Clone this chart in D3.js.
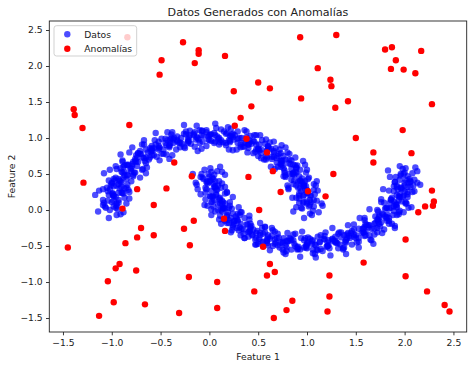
<!DOCTYPE html>
<html><head><meta charset="utf-8">
<script src="https://cdn.jsdelivr.net/npm/d3@7"></script>
<style>
html,body{margin:0;padding:0;background:#fff;}
svg{display:block;font-family:"DejaVu Sans",sans-serif;}
</style></head>
<body><svg id="chart" width="474" height="368"></svg>
<script>
const titulo = "Datos Generados con Anomalías";
const etiquetaX = "Feature 1";
const etiquetaY = "Feature 2";
const serieNombres = ["Datos", "Anomalías"];
const ticksX = [-1.5,-1.0,-0.5,0.0,0.5,1.0,1.5,2.0,2.5];
const ticksY = [-1.5,-1.0,-0.5,0.0,0.5,1.0,1.5,2.0,2.5];

// puntos normales: luna superior
const lunaSuperior = [
[1.02,0.05],[0.92,0.1],[1.12,-0.03],[0.97,-0.11],[1.07,0.14],[0.86,-0.02],[1.05,-0.07],[0.94,0.03],[1.15,0.09],
[0.96,0.19],[1.1,0.13],[0.89,0.04],[1.03,-0.05],[1.08,0.22],[0.98,0.28],[1.16,0.06],[0.85,0.17],[1.0,0.09],
[1.04,0.11],[0.89,0.17],[0.99,0.33],[1.11,0.27],[0.93,0.41],[0.81,0.31],[1.07,0.05],[0.97,0.21],[1.09,0.34],
[0.97,0.36],[0.87,0.41],[1.07,0.28],[0.92,0.2],[1.02,0.45],[0.81,0.29],[1.0,0.24],[0.89,0.34],[1.1,0.4],
[0.87,0.49],[1.01,0.43],[0.8,0.34],[0.94,0.26],[0.99,0.52],[0.89,0.58],[1.07,0.36],[0.76,0.47],[0.91,0.39],
[0.93,0.4],[0.78,0.46],[0.88,0.62],[1.0,0.56],[0.82,0.7],[0.7,0.6],[0.96,0.34],[0.86,0.5],[0.98,0.63],
[0.83,0.64],[0.73,0.69],[0.93,0.56],[0.78,0.48],[0.88,0.73],[0.67,0.57],[0.86,0.52],[0.75,0.62],[0.96,0.68],
[0.7,0.75],[0.84,0.69],[0.63,0.6],[0.77,0.52],[0.82,0.78],[0.72,0.84],[0.9,0.62],[0.59,0.73],[0.74,0.65],
[0.73,0.64],[0.58,0.7],[0.68,0.86],[0.8,0.8],[0.62,0.94],[0.5,0.84],[0.76,0.58],[0.66,0.74],[0.78,0.87],
[0.61,0.86],[0.51,0.91],[0.71,0.78],[0.56,0.7],[0.66,0.95],[0.45,0.79],[0.64,0.74],[0.53,0.84],[0.74,0.9],
[0.46,0.95],[0.6,0.89],[0.39,0.8],[0.53,0.72],[0.58,0.98],[0.48,1.04],[0.66,0.82],[0.35,0.93],[0.5,0.85],
[0.47,0.81],[0.32,0.87],[0.42,1.03],[0.54,0.97],[0.36,1.11],[0.24,1.01],[0.5,0.75],[0.4,0.91],[0.52,1.04],
[0.33,1.0],[0.23,1.05],[0.43,0.92],[0.28,0.84],[0.38,1.09],[0.17,0.93],[0.36,0.88],[0.25,0.98],[0.46,1.04],
[0.17,1.06],[0.31,1.0],[0.1,0.91],[0.24,0.83],[0.29,1.09],[0.19,1.15],[0.37,0.93],[0.06,1.04],[0.21,0.96],
[0.17,0.9],[0.02,0.96],[0.12,1.12],[0.24,1.06],[0.06,1.2],[-0.07,1.1],[0.2,0.84],[0.1,1.0],[0.22,1.13],
[0.02,1.05],[-0.08,1.1],[0.12,0.97],[-0.03,0.89],[0.07,1.14],[-0.14,0.98],[0.05,0.93],[-0.06,1.03],[0.15,1.09],
[-0.15,1.08],[-0.01,1.02],[-0.22,0.93],[-0.08,0.85],[-0.03,1.11],[-0.13,1.17],[0.06,0.95],[-0.26,1.06],[-0.11,0.98],
[-0.15,0.88],[-0.3,0.94],[-0.2,1.1],[-0.08,1.04],[-0.26,1.18],[-0.38,1.08],[-0.12,0.82],[-0.22,0.98],[-0.1,1.11],
[-0.29,1.0],[-0.39,1.05],[-0.19,0.92],[-0.34,0.84],[-0.24,1.09],[-0.45,0.93],[-0.26,0.88],[-0.37,0.98],[-0.16,1.04],
[-0.45,0.99],[-0.31,0.93],[-0.52,0.84],[-0.38,0.76],[-0.33,1.02],[-0.43,1.08],[-0.25,0.86],[-0.56,0.97],[-0.41,0.89],
[-0.44,0.77],[-0.59,0.83],[-0.49,0.99],[-0.37,0.93],[-0.55,1.07],[-0.67,0.97],[-0.41,0.71],[-0.51,0.87],[-0.39,1.0],
[-0.57,0.86],[-0.67,0.91],[-0.47,0.78],[-0.62,0.7],[-0.52,0.95],[-0.73,0.79],[-0.54,0.74],[-0.65,0.84],[-0.44,0.9],
[-0.71,0.82],[-0.57,0.76],[-0.78,0.67],[-0.64,0.59],[-0.59,0.85],[-0.69,0.91],[-0.51,0.69],[-0.82,0.8],[-0.67,0.72],
[-0.68,0.57],[-0.83,0.63],[-0.73,0.79],[-0.61,0.73],[-0.79,0.87],[-0.91,0.77],[-0.65,0.51],[-0.75,0.67],[-0.63,0.8],
[-0.79,0.64],[-0.89,0.69],[-0.69,0.56],[-0.84,0.48],[-0.74,0.73],[-0.95,0.57],[-0.76,0.52],[-0.87,0.62],[-0.66,0.68],
[-0.91,0.58],[-0.77,0.52],[-0.98,0.43],[-0.84,0.35],[-0.79,0.61],[-0.89,0.67],[-0.71,0.45],[-1.02,0.56],[-0.87,0.48],
[-0.85,0.31],[-1.0,0.37],[-0.9,0.53],[-0.78,0.47],[-0.96,0.61],[-1.08,0.51],[-0.82,0.25],[-0.92,0.41],[-0.8,0.54],
[-0.93,0.36],[-1.03,0.41],[-0.83,0.28],[-0.98,0.2],[-0.88,0.45],[-1.09,0.29],[-0.9,0.24],[-1.01,0.34],[-0.8,0.4],
[-1.02,0.29],[-0.88,0.23],[-1.09,0.14],[-0.95,0.06],[-0.9,0.32],[-1.0,0.38],[-0.82,0.16],[-1.13,0.27],[-0.98,0.19],
[-0.94,0.01],[-1.09,0.07],[-0.99,0.23],[-0.87,0.17],[-1.05,0.31],[-1.17,0.21],[-0.91,-0.06],[-1.0,0.11],[-0.89,0.24],
[-0.98,0.05],[-1.08,0.1],[-0.88,-0.03],[-1.03,-0.11],[-0.93,0.14],[-1.14,-0.02],[-0.95,-0.07],[-1.06,0.03],[-0.85,0.09],
[1.03,0.07],[0.95,0.02],[1.0,0.12],[1.06,-0.01],[0.96,0.1],
[0.97,0.11],[1.04,0.2],[0.92,0.16],[1.01,0.24],[1.03,0.14],
[1.0,0.28],[0.92,0.23],[0.97,0.33],[1.03,0.2],[0.93,0.31],
[0.91,0.31],[0.98,0.4],[0.86,0.36],[0.95,0.44],[0.97,0.34],
[0.92,0.47],[0.84,0.42],[0.89,0.52],[0.95,0.39],[0.85,0.5],
[0.82,0.5],[0.89,0.59],[0.77,0.55],[0.86,0.63],[0.88,0.53],
[0.81,0.65],[0.73,0.6],[0.78,0.7],[0.84,0.57],[0.74,0.68],
[0.69,0.66],[0.76,0.75],[0.64,0.71],[0.73,0.79],[0.75,0.69],
[0.66,0.8],[0.58,0.75],[0.63,0.85],[0.69,0.72],[0.59,0.83],
[0.53,0.79],[0.6,0.88],[0.48,0.84],[0.57,0.92],[0.59,0.82],
[0.48,0.91],[0.4,0.86],[0.45,0.96],[0.51,0.83],[0.41,0.94],
[0.34,0.88],[0.41,0.97],[0.29,0.93],[0.38,1.01],[0.4,0.91],
[0.29,0.99],[0.21,0.94],[0.26,1.04],[0.32,0.91],[0.22,1.02],
[0.14,0.94],[0.21,1.03],[0.09,0.99],[0.18,1.07],[0.2,0.97],
[0.08,1.02],[0.0,0.97],[0.05,1.07],[0.11,0.94],[0.01,1.05],
[-0.07,0.95],[0.0,1.04],[-0.12,1.0],[-0.03,1.08],[-0.01,0.98],
[-0.13,1.01],[-0.21,0.96],[-0.16,1.06],[-0.1,0.93],[-0.2,1.04],
[-0.28,0.92],[-0.21,1.01],[-0.33,0.97],[-0.24,1.05],[-0.22,0.95],
[-0.33,0.95],[-0.41,0.9],[-0.36,1.0],[-0.3,0.87],[-0.4,0.98],
[-0.47,0.84],[-0.4,0.93],[-0.52,0.89],[-0.43,0.97],[-0.41,0.87],
[-0.52,0.86],[-0.6,0.81],[-0.55,0.91],[-0.49,0.78],[-0.59,0.89],
[-0.65,0.73],[-0.58,0.82],[-0.7,0.78],[-0.61,0.86],[-0.59,0.76],
[-0.68,0.73],[-0.76,0.68],[-0.71,0.78],[-0.65,0.65],[-0.75,0.76],
[-0.8,0.58],[-0.73,0.67],[-0.85,0.63],[-0.76,0.71],[-0.74,0.61],
[-0.81,0.57],[-0.89,0.52],[-0.84,0.62],[-0.78,0.49],[-0.88,0.6],
[-0.91,0.4],[-0.84,0.49],[-0.96,0.45],[-0.87,0.53],[-0.85,0.43],
[-0.9,0.38],[-0.98,0.33],[-0.93,0.43],[-0.87,0.3],[-0.97,0.41],
[-0.99,0.21],[-0.92,0.3],[-1.04,0.26],[-0.95,0.34],[-0.93,0.24],
[-0.96,0.18],[-1.04,0.13],[-0.99,0.23],[-0.93,0.1],[-1.03,0.21],
[-1.02,0.0],[-0.95,0.09],[-1.07,0.05],[-0.98,0.13],[-0.96,0.03]
];

// puntos normales: luna inferior
const lunaInferior = [
[0.06,0.4],[-0.09,0.46],[0.01,0.58],[0.13,0.53],[-0.05,0.56],[-0.17,0.5],[0.09,0.34],[-0.01,0.5],[0.11,0.6],
[0.03,0.45],[-0.08,0.5],[0.13,0.37],[-0.03,0.29],[0.08,0.54],[-0.14,0.38],[0.06,0.33],[-0.06,0.43],[0.16,0.49],
[-0.02,0.37],[0.12,0.31],[-0.09,0.22],[0.05,0.14],[0.1,0.4],[0.0,0.46],[0.18,0.24],[-0.13,0.35],[0.02,0.27],
[0.11,0.09],[-0.04,0.15],[0.06,0.31],[0.18,0.25],[0.0,0.39],[-0.12,0.29],[0.14,0.03],[0.04,0.19],[0.16,0.32],
[0.11,0.14],[0.01,0.19],[0.21,0.06],[0.06,-0.02],[0.16,0.23],[-0.05,0.07],[0.14,0.02],[0.03,0.12],[0.24,0.18],
[0.09,0.08],[0.23,0.02],[0.02,-0.07],[0.16,-0.15],[0.21,0.11],[0.11,0.17],[0.29,-0.05],[-0.02,0.06],[0.13,-0.02],
[0.25,-0.19],[0.1,-0.13],[0.2,0.03],[0.32,-0.03],[0.14,0.11],[0.02,0.01],[0.28,-0.25],[0.18,-0.09],[0.3,0.04],
[0.28,-0.12],[0.18,-0.07],[0.38,-0.2],[0.23,-0.28],[0.33,-0.03],[0.12,-0.19],[0.31,-0.24],[0.2,-0.14],[0.41,-0.08],
[0.29,-0.16],[0.43,-0.22],[0.22,-0.31],[0.36,-0.39],[0.41,-0.13],[0.31,-0.07],[0.49,-0.29],[0.18,-0.18],[0.33,-0.26],
[0.47,-0.41],[0.32,-0.35],[0.42,-0.19],[0.54,-0.25],[0.36,-0.11],[0.24,-0.21],[0.5,-0.47],[0.4,-0.31],[0.52,-0.18],
[0.52,-0.32],[0.42,-0.27],[0.62,-0.4],[0.47,-0.48],[0.57,-0.23],[0.36,-0.39],[0.55,-0.44],[0.44,-0.34],[0.65,-0.28],
[0.55,-0.33],[0.69,-0.39],[0.48,-0.48],[0.62,-0.56],[0.67,-0.3],[0.57,-0.24],[0.75,-0.46],[0.44,-0.35],[0.59,-0.43],
[0.75,-0.55],[0.6,-0.49],[0.7,-0.33],[0.82,-0.39],[0.64,-0.25],[0.52,-0.35],[0.78,-0.61],[0.68,-0.45],[0.8,-0.32],
[0.81,-0.43],[0.71,-0.38],[0.91,-0.51],[0.76,-0.59],[0.86,-0.34],[0.65,-0.5],[0.84,-0.55],[0.73,-0.45],[0.94,-0.39],
[0.86,-0.42],[1.0,-0.48],[0.79,-0.57],[0.93,-0.65],[0.98,-0.39],[0.88,-0.33],[1.06,-0.55],[0.75,-0.44],[0.9,-0.52],
[1.06,-0.6],[0.91,-0.54],[1.01,-0.38],[1.13,-0.44],[0.95,-0.3],[0.83,-0.4],[1.09,-0.66],[0.99,-0.5],[1.11,-0.37],
[1.13,-0.45],[1.03,-0.4],[1.23,-0.53],[1.08,-0.61],[1.18,-0.36],[0.97,-0.52],[1.16,-0.57],[1.05,-0.47],[1.26,-0.41],
[1.17,-0.4],[1.31,-0.46],[1.1,-0.55],[1.24,-0.63],[1.29,-0.37],[1.19,-0.31],[1.37,-0.53],[1.06,-0.42],[1.21,-0.5],
[1.37,-0.55],[1.22,-0.49],[1.32,-0.33],[1.44,-0.39],[1.26,-0.25],[1.14,-0.35],[1.4,-0.61],[1.3,-0.45],[1.42,-0.32],
[1.43,-0.36],[1.33,-0.31],[1.53,-0.44],[1.38,-0.52],[1.48,-0.27],[1.27,-0.43],[1.46,-0.48],[1.35,-0.38],[1.56,-0.32],
[1.46,-0.29],[1.6,-0.35],[1.39,-0.44],[1.53,-0.52],[1.58,-0.26],[1.48,-0.2],[1.66,-0.42],[1.35,-0.31],[1.5,-0.39],
[1.65,-0.41],[1.5,-0.35],[1.6,-0.19],[1.72,-0.25],[1.54,-0.11],[1.42,-0.21],[1.68,-0.47],[1.58,-0.31],[1.7,-0.18],
[1.69,-0.19],[1.59,-0.14],[1.79,-0.27],[1.64,-0.35],[1.74,-0.1],[1.53,-0.26],[1.72,-0.31],[1.61,-0.21],[1.82,-0.15],
[1.7,-0.09],[1.84,-0.15],[1.63,-0.24],[1.77,-0.32],[1.82,-0.06],[1.72,0.0],[1.9,-0.22],[1.59,-0.11],[1.74,-0.19],
[1.87,-0.19],[1.72,-0.13],[1.82,0.03],[1.94,-0.03],[1.76,0.11],[1.64,0.01],[1.9,-0.25],[1.8,-0.09],[1.92,0.04],
[1.89,0.05],[1.79,0.1],[1.99,-0.03],[1.84,-0.11],[1.94,0.14],[1.73,-0.02],[1.92,-0.07],[1.81,0.03],[2.02,0.09],
[1.87,0.17],[2.01,0.11],[1.8,0.02],[1.94,-0.06],[1.99,0.2],[1.89,0.26],[2.07,0.04],[1.76,0.15],[1.91,0.07],
[2.01,0.09],[1.86,0.15],[1.96,0.31],[2.08,0.25],[1.9,0.39],[1.78,0.29],[2.04,0.03],[1.94,0.19],[2.06,0.32],
[2.0,0.34],[1.9,0.39],[2.1,0.26],[1.95,0.18],[2.05,0.43],[1.84,0.27],[2.03,0.22],[1.92,0.32],[2.13,0.38],
[1.96,0.48],[2.1,0.42],[1.89,0.33],[2.03,0.25],[2.08,0.51],[1.98,0.57],[2.16,0.35],[1.85,0.46],[2.0,0.38],
[2.06,0.4],[1.91,0.46],[2.01,0.58],[2.13,0.54],[1.95,0.61],[1.83,0.55],[2.09,0.34],[1.99,0.5],[2.11,0.59],
[-0.02,0.4],[0.05,0.49],[-0.07,0.45],[0.02,0.53],[0.04,0.43],
[0.04,0.36],[-0.04,0.31],[0.01,0.41],[0.07,0.28],[-0.03,0.39],
[0.01,0.19],[0.08,0.28],[-0.04,0.24],[0.05,0.32],[0.07,0.22],
[0.1,0.16],[0.02,0.11],[0.07,0.21],[0.13,0.08],[0.03,0.19],
[0.09,0.0],[0.16,0.09],[0.04,0.05],[0.13,0.13],[0.15,0.03],
[0.19,-0.03],[0.11,-0.08],[0.16,0.02],[0.22,-0.11],[0.12,0.0],
[0.2,-0.18],[0.27,-0.09],[0.15,-0.13],[0.24,-0.05],[0.26,-0.15],
[0.32,-0.19],[0.24,-0.24],[0.29,-0.14],[0.35,-0.27],[0.25,-0.16],
[0.35,-0.33],[0.42,-0.24],[0.3,-0.28],[0.39,-0.2],[0.41,-0.3],
[0.48,-0.32],[0.4,-0.37],[0.45,-0.27],[0.51,-0.4],[0.41,-0.29],
[0.53,-0.44],[0.6,-0.35],[0.48,-0.39],[0.57,-0.31],[0.59,-0.41],
[0.67,-0.41],[0.59,-0.46],[0.64,-0.36],[0.7,-0.49],[0.6,-0.38],
[0.72,-0.52],[0.79,-0.43],[0.67,-0.47],[0.76,-0.39],[0.78,-0.49],
[0.87,-0.47],[0.79,-0.52],[0.84,-0.42],[0.9,-0.55],[0.8,-0.44],
[0.93,-0.55],[1.0,-0.46],[0.88,-0.5],[0.97,-0.42],[0.99,-0.52],
[1.08,-0.48],[1.0,-0.53],[1.05,-0.43],[1.11,-0.56],[1.01,-0.45],
[1.14,-0.54],[1.21,-0.45],[1.09,-0.49],[1.18,-0.41],[1.2,-0.51],
[1.29,-0.45],[1.21,-0.5],[1.26,-0.4],[1.32,-0.53],[1.22,-0.42],
[1.34,-0.48],[1.41,-0.39],[1.29,-0.43],[1.38,-0.35],[1.4,-0.45],
[1.48,-0.37],[1.4,-0.42],[1.45,-0.32],[1.51,-0.45],[1.41,-0.34],
[1.53,-0.39],[1.6,-0.3],[1.48,-0.34],[1.57,-0.26],[1.59,-0.36],
[1.66,-0.26],[1.58,-0.31],[1.63,-0.21],[1.69,-0.34],[1.59,-0.23],
[1.69,-0.26],[1.76,-0.17],[1.64,-0.21],[1.73,-0.13],[1.75,-0.23],
[1.81,-0.11],[1.73,-0.16],[1.78,-0.06],[1.84,-0.19],[1.74,-0.08],
[1.82,-0.1],[1.89,-0.01],[1.77,-0.05],[1.86,0.03],[1.88,-0.07],
[1.92,0.07],[1.84,0.02],[1.89,0.12],[1.95,-0.01],[1.85,0.1],
[1.91,0.09],[1.98,0.18],[1.86,0.14],[1.95,0.22],[1.97,0.12],
[2.0,0.26],[1.92,0.21],[1.97,0.31],[2.03,0.18],[1.93,0.29],
[1.97,0.29],[2.04,0.38],[1.92,0.34],[2.01,0.42],[2.03,0.32],
[2.03,0.47],[1.95,0.42],[2.0,0.52],[2.06,0.39],[1.96,0.5]
];

// anomalías
const anomalias = [
[-0.84,2.40],[-0.27,2.33],[-0.11,2.22],[-0.11,2.17],[0.16,2.14],[0.93,2.40],[1.30,2.43],[1.80,2.23],[1.87,2.26],[2.17,2.21],
[1.91,2.08],[-0.49,2.08],[-0.51,1.88],[-1.39,1.40],[-1.38,1.32],[-1.30,1.14],[-0.82,1.18],[-0.15,2.04],[1.11,1.97],[1.24,1.81],
[1.25,1.72],[0.50,1.77],[0.25,1.65],[0.62,1.69],[0.94,1.55],[0.43,1.44],[0.32,1.28],[0.26,1.17],[1.86,1.96],[1.99,1.95],
[2.11,1.90],[1.42,1.51],[1.29,1.42],[2.28,1.47],[1.98,1.11],[-0.36,0.66],[-1.29,0.38],[-0.74,0.29],[-0.44,0.30],[-0.57,0.07],
[-0.89,0.02],[-0.70,-0.25],[-0.26,-0.26],[0.38,0.99],[0.59,0.80],[0.65,0.54],[-0.18,0.47],[0.40,0.46],[0.73,0.25],[1.01,0.26],
[1.19,0.19],[0.51,0.00],[0.15,-0.12],[-0.16,-0.15],[1.50,1.00],[1.68,0.80],[2.07,0.79],[1.68,0.66],[1.27,0.50],[2.28,0.27],
[2.30,0.12],[2.29,0.06],[2.21,0.05],[2.14,-0.03],[-1.45,-0.52],[-0.86,-0.46],[-0.74,-0.38],[-0.57,-0.35],[-0.20,-0.49],[-0.92,-0.75],
[-0.96,-0.81],[-0.75,-0.84],[-1.04,-0.99],[-0.21,-0.93],[-0.98,-1.28],[-0.66,-1.31],[-0.31,-1.43],[-1.13,-1.47],[0.16,-0.29],[0.55,-0.51],
[0.62,-0.75],[0.67,-0.86],[0.59,-0.91],[0.08,-1.00],[1.23,-0.91],[0.46,-1.13],[0.85,-1.26],[1.23,-1.20],[0.08,-1.36],[0.79,-1.39],
[1.21,-1.41],[0.66,-1.50],[2.01,-0.41],[1.58,-0.73],[2.01,-0.92],[2.23,-1.13],[2.41,-1.32],[2.46,-1.41]
];

const M = {left: 49.3, right: 466.7, top: 21, bottom: 332};
const svg = d3.select("#chart");
const x = d3.scaleLinear().domain([-1.64, 2.636]).range([M.left, M.right]);
const y = d3.scaleLinear().domain([-1.694, 2.625]).range([M.bottom, M.top]);
const fs = 9.2;
const r = 3.2;

const plot = svg.append("g");
const datos = lunaSuperior.concat(lunaInferior);
plot.append("g").selectAll("circle").data(datos).join("circle")
  .attr("cx", d => x(d[0])).attr("cy", d => y(d[1])).attr("r", r)
  .attr("fill", "#0000ff").attr("fill-opacity", 0.7);
plot.append("g").selectAll("circle").data(anomalias).join("circle")
  .attr("cx", d => x(d[0])).attr("cy", d => y(d[1])).attr("r", r)
  .attr("fill", "#ff0000");

const fmt = d3.format(".1f");
const ax = svg.append("g").attr("transform", `translate(0,${M.bottom})`)
  .call(d3.axisBottom(x).tickValues(ticksX).tickFormat(fmt).tickSize(3.3).tickPadding(4.2).tickSizeOuter(0));
const ay = svg.append("g").attr("transform", `translate(${M.left},0)`)
  .call(d3.axisLeft(y).tickValues(ticksY).tickFormat(fmt).tickSize(3.3).tickPadding(3.3).tickSizeOuter(0));
[ax, ay].forEach(g => {
  g.select(".domain").remove();
  g.selectAll("text").attr("font-size", fs).attr("font-family", "DejaVu Sans").attr("fill", "#222");
  g.selectAll("line").attr("stroke", "#222").attr("stroke-width", 0.9);
});

svg.append("rect").attr("x", M.left).attr("y", M.top)
  .attr("width", M.right - M.left).attr("height", M.bottom - M.top)
  .attr("fill", "none").attr("stroke", "#222").attr("stroke-width", 0.9);

svg.append("text").attr("x", (M.left + M.right) / 2).attr("y", 15.8)
  .attr("text-anchor", "middle").attr("font-size", 11.1).attr("fill", "#222").text(titulo);
svg.append("text").attr("x", (M.left + M.right) / 2).attr("y", 359.5)
  .attr("text-anchor", "middle").attr("font-size", fs).attr("fill", "#222").text(etiquetaX);
svg.append("text").attr("transform", `translate(15.4,${(M.top + M.bottom) / 2}) rotate(-90)`)
  .attr("text-anchor", "middle").attr("font-size", fs).attr("fill", "#222").text(etiquetaY);

// leyenda
const lg = svg.append("g");
lg.append("rect").attr("x", 54).attr("y", 25.7).attr("width", 82.7).attr("height", 30.3)
  .attr("rx", 2.5).attr("fill", "#fff").attr("fill-opacity", 0.8)
  .attr("stroke", "#cccccc").attr("stroke-width", 0.9);
const colores = ["#0000ff", "#ff0000"];
const opac = [0.7, 1];
serieNombres.forEach((n, i) => {
  const yy = 34.3 + i * 14.4;
  lg.append("circle").attr("cx", 67.3).attr("cy", yy).attr("r", r)
    .attr("fill", colores[i]).attr("fill-opacity", opac[i]);
  lg.append("text").attr("x", 84.3).attr("y", yy).attr("dy", "0.36em")
    .attr("font-size", fs).attr("fill", "#222").text(n);
});
</script>
</body></html>
